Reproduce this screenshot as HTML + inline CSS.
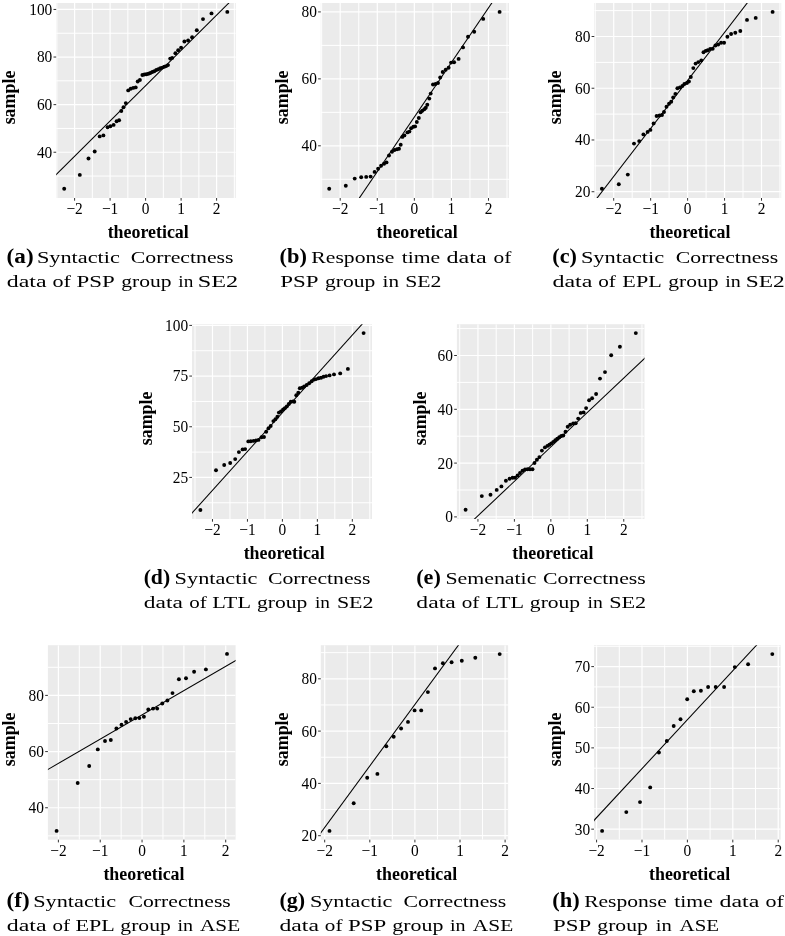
<!DOCTYPE html>
<html><head><meta charset="utf-8"><title>Q-Q plots</title><style>html,body{margin:0;padding:0;background:#fff;width:785px;height:936px;overflow:hidden}svg{display:block}</style></head><body>
<svg width="785" height="936" viewBox="0 0 785 936" font-family="'Liberation Serif', serif" fill="#000">
<clipPath id="clipa"><rect x="56.2" y="3" width="179.6" height="195"/></clipPath>
<rect x="56.2" y="3" width="179.6" height="195" fill="#EBEBEB"/>
<g clip-path="url(#clipa)">
<line x1="56.2" x2="235.8" y1="176.04" y2="176.04" stroke="#fff" stroke-width="1.0"/>
<line x1="56.2" x2="235.8" y1="128.44" y2="128.44" stroke="#fff" stroke-width="1.0"/>
<line x1="56.2" x2="235.8" y1="80.84" y2="80.84" stroke="#fff" stroke-width="1.0"/>
<line x1="56.2" x2="235.8" y1="33.24" y2="33.24" stroke="#fff" stroke-width="1.0"/>
<line y1="3" y2="198" x1="56.85" x2="56.85" stroke="#fff" stroke-width="1.0"/>
<line y1="3" y2="198" x1="92.35" x2="92.35" stroke="#fff" stroke-width="1.0"/>
<line y1="3" y2="198" x1="127.85" x2="127.85" stroke="#fff" stroke-width="1.0"/>
<line y1="3" y2="198" x1="163.35" x2="163.35" stroke="#fff" stroke-width="1.0"/>
<line y1="3" y2="198" x1="198.85" x2="198.85" stroke="#fff" stroke-width="1.0"/>
<line y1="3" y2="198" x1="234.35" x2="234.35" stroke="#fff" stroke-width="1.0"/>
<line x1="56.2" x2="235.8" y1="152.24" y2="152.24" stroke="#fff" stroke-width="1.2"/>
<line x1="56.2" x2="235.8" y1="104.64" y2="104.64" stroke="#fff" stroke-width="1.2"/>
<line x1="56.2" x2="235.8" y1="57.04" y2="57.04" stroke="#fff" stroke-width="1.2"/>
<line x1="56.2" x2="235.8" y1="9.44" y2="9.44" stroke="#fff" stroke-width="1.2"/>
<line y1="3" y2="198" x1="74.6" x2="74.6" stroke="#fff" stroke-width="1.2"/>
<line y1="3" y2="198" x1="110.1" x2="110.1" stroke="#fff" stroke-width="1.2"/>
<line y1="3" y2="198" x1="145.6" x2="145.6" stroke="#fff" stroke-width="1.2"/>
<line y1="3" y2="198" x1="181.1" x2="181.1" stroke="#fff" stroke-width="1.2"/>
<line y1="3" y2="198" x1="216.6" x2="216.6" stroke="#fff" stroke-width="1.2"/>
<circle cx="64.2" cy="188.8" r="1.95"/>
<circle cx="79.8" cy="174.9" r="1.95"/>
<circle cx="88.5" cy="158.5" r="1.95"/>
<circle cx="94.7" cy="151.5" r="1.95"/>
<circle cx="99.7" cy="136.4" r="1.95"/>
<circle cx="103.4" cy="135.4" r="1.95"/>
<circle cx="107.6" cy="127.2" r="1.95"/>
<circle cx="110.4" cy="126.2" r="1.95"/>
<circle cx="113.6" cy="124.9" r="1.95"/>
<circle cx="116.6" cy="121.2" r="1.95"/>
<circle cx="119.1" cy="120.2" r="1.95"/>
<circle cx="121.3" cy="111.0" r="1.95"/>
<circle cx="123.5" cy="107.3" r="1.95"/>
<circle cx="125.8" cy="103.1" r="1.95"/>
<circle cx="128.2" cy="90.4" r="1.95"/>
<circle cx="130.7" cy="88.7" r="1.95"/>
<circle cx="133.2" cy="87.9" r="1.95"/>
<circle cx="135.7" cy="87.4" r="1.95"/>
<circle cx="137.7" cy="81.5" r="1.95"/>
<circle cx="139.9" cy="80.0" r="1.95"/>
<circle cx="142.4" cy="75.0" r="1.95"/>
<circle cx="144.4" cy="74.5" r="1.95"/>
<circle cx="146.4" cy="74.3" r="1.95"/>
<circle cx="148.4" cy="73.8" r="1.95"/>
<circle cx="150.3" cy="73.0" r="1.95"/>
<circle cx="152.3" cy="72.0" r="1.95"/>
<circle cx="154.3" cy="71.3" r="1.95"/>
<circle cx="156.3" cy="70.0" r="1.95"/>
<circle cx="158.3" cy="69.3" r="1.95"/>
<circle cx="160.3" cy="68.3" r="1.95"/>
<circle cx="162.3" cy="67.6" r="1.95"/>
<circle cx="164.3" cy="66.8" r="1.95"/>
<circle cx="166.2" cy="66.1" r="1.95"/>
<circle cx="168.0" cy="65.1" r="1.95"/>
<circle cx="170.2" cy="58.6" r="1.95"/>
<circle cx="172.2" cy="57.9" r="1.95"/>
<circle cx="175.4" cy="53.2" r="1.95"/>
<circle cx="178.2" cy="50.2" r="1.95"/>
<circle cx="181.1" cy="47.7" r="1.95"/>
<circle cx="184.4" cy="41.5" r="1.95"/>
<circle cx="188.1" cy="40.5" r="1.95"/>
<circle cx="192.1" cy="37.3" r="1.95"/>
<circle cx="196.8" cy="30.3" r="1.95"/>
<circle cx="203.0" cy="19.1" r="1.95"/>
<circle cx="211.5" cy="13.4" r="1.95"/>
<circle cx="227.3" cy="11.9" r="1.95"/>
<line x1="51.2" y1="179.57" x2="240.8" y2="-8.93" stroke="#000" stroke-width="1.05"/>
</g>
<line x1="53.5" x2="56.2" y1="152.24" y2="152.24" stroke="#333" stroke-width="1"/>
<text transform="translate(52.3,157.64) scale(1,1.09)" text-anchor="end" font-size="15.4">40</text>
<line x1="53.5" x2="56.2" y1="104.64" y2="104.64" stroke="#333" stroke-width="1"/>
<text transform="translate(52.3,110.04) scale(1,1.09)" text-anchor="end" font-size="15.4">60</text>
<line x1="53.5" x2="56.2" y1="57.04" y2="57.04" stroke="#333" stroke-width="1"/>
<text transform="translate(52.3,62.44) scale(1,1.09)" text-anchor="end" font-size="15.4">80</text>
<line x1="53.5" x2="56.2" y1="9.44" y2="9.44" stroke="#333" stroke-width="1"/>
<text transform="translate(52.3,14.84) scale(1,1.09)" text-anchor="end" font-size="15.4">100</text>
<line x1="74.6" x2="74.6" y1="198" y2="200.7" stroke="#333" stroke-width="1"/>
<text transform="translate(74.6,214.4) scale(1,1.09)" text-anchor="middle" font-size="15.4">−2</text>
<line x1="110.1" x2="110.1" y1="198" y2="200.7" stroke="#333" stroke-width="1"/>
<text transform="translate(110.1,214.4) scale(1,1.09)" text-anchor="middle" font-size="15.4">−1</text>
<line x1="145.6" x2="145.6" y1="198" y2="200.7" stroke="#333" stroke-width="1"/>
<text transform="translate(145.6,214.4) scale(1,1.09)" text-anchor="middle" font-size="15.4">0</text>
<line x1="181.1" x2="181.1" y1="198" y2="200.7" stroke="#333" stroke-width="1"/>
<text transform="translate(181.1,214.4) scale(1,1.09)" text-anchor="middle" font-size="15.4">1</text>
<line x1="216.6" x2="216.6" y1="198" y2="200.7" stroke="#333" stroke-width="1"/>
<text transform="translate(216.6,214.4) scale(1,1.09)" text-anchor="middle" font-size="15.4">2</text>
<text x="148.2" y="238.2" text-anchor="middle" font-size="17.9" font-weight="bold">theoretical</text>
<text transform="translate(14.8,97.5) rotate(-90)" x="0" y="0" text-anchor="middle" font-size="17.9" font-weight="bold">sample</text>
<text transform="translate(6.58,262.8) scale(1,1.18)" font-size="17.6" font-weight="bold" textLength="27.04" lengthAdjust="spacingAndGlyphs">(a)</text>
<text x="36.91" y="262.8" font-size="17.6" textLength="82.98" lengthAdjust="spacingAndGlyphs">Syntactic</text>
<text x="130.81" y="262.8" font-size="17.6" textLength="102.78" lengthAdjust="spacingAndGlyphs">Correctness</text>
<text x="6.74" y="287.3" font-size="17.6" textLength="39.79" lengthAdjust="spacingAndGlyphs">data</text>
<text x="52.46" y="287.3" font-size="17.6" textLength="18.44" lengthAdjust="spacingAndGlyphs">of</text>
<text x="76.54" y="287.3" font-size="17.6" textLength="38.28" lengthAdjust="spacingAndGlyphs">PSP</text>
<text x="121.27" y="287.3" font-size="17.6" textLength="50.27" lengthAdjust="spacingAndGlyphs">group</text>
<text x="178.30" y="287.3" font-size="17.6" textLength="15.00" lengthAdjust="spacingAndGlyphs">in</text>
<text x="197.78" y="287.3" font-size="17.6" textLength="40.35" lengthAdjust="spacingAndGlyphs">SE2</text>
<clipPath id="clipb"><rect x="320.8" y="3" width="188.2" height="195"/></clipPath>
<rect x="320.8" y="3" width="188.2" height="195" fill="#EBEBEB"/>
<g clip-path="url(#clipb)">
<line x1="320.8" x2="509" y1="179.27" y2="179.27" stroke="#fff" stroke-width="1.0"/>
<line x1="320.8" x2="509" y1="112.33" y2="112.33" stroke="#fff" stroke-width="1.0"/>
<line x1="320.8" x2="509" y1="45.39" y2="45.39" stroke="#fff" stroke-width="1.0"/>
<line y1="3" y2="198" x1="321.68" x2="321.68" stroke="#fff" stroke-width="1.0"/>
<line y1="3" y2="198" x1="358.75" x2="358.75" stroke="#fff" stroke-width="1.0"/>
<line y1="3" y2="198" x1="395.81" x2="395.81" stroke="#fff" stroke-width="1.0"/>
<line y1="3" y2="198" x1="432.89" x2="432.89" stroke="#fff" stroke-width="1.0"/>
<line y1="3" y2="198" x1="469.96" x2="469.96" stroke="#fff" stroke-width="1.0"/>
<line y1="3" y2="198" x1="507.03" x2="507.03" stroke="#fff" stroke-width="1.0"/>
<line x1="320.8" x2="509" y1="145.8" y2="145.8" stroke="#fff" stroke-width="1.2"/>
<line x1="320.8" x2="509" y1="78.86" y2="78.86" stroke="#fff" stroke-width="1.2"/>
<line x1="320.8" x2="509" y1="11.92" y2="11.92" stroke="#fff" stroke-width="1.2"/>
<line y1="3" y2="198" x1="340.21" x2="340.21" stroke="#fff" stroke-width="1.2"/>
<line y1="3" y2="198" x1="377.28" x2="377.28" stroke="#fff" stroke-width="1.2"/>
<line y1="3" y2="198" x1="414.35" x2="414.35" stroke="#fff" stroke-width="1.2"/>
<line y1="3" y2="198" x1="451.42" x2="451.42" stroke="#fff" stroke-width="1.2"/>
<line y1="3" y2="198" x1="488.49" x2="488.49" stroke="#fff" stroke-width="1.2"/>
<circle cx="329.2" cy="188.8" r="1.95"/>
<circle cx="345.8" cy="185.8" r="1.95"/>
<circle cx="354.7" cy="178.6" r="1.95"/>
<circle cx="361.2" cy="177.3" r="1.95"/>
<circle cx="366.2" cy="176.9" r="1.95"/>
<circle cx="370.6" cy="176.6" r="1.95"/>
<circle cx="374.6" cy="171.9" r="1.95"/>
<circle cx="378.1" cy="168.7" r="1.95"/>
<circle cx="381.1" cy="165.7" r="1.95"/>
<circle cx="384.1" cy="163.7" r="1.95"/>
<circle cx="386.5" cy="162.4" r="1.95"/>
<circle cx="389.0" cy="155.5" r="1.95"/>
<circle cx="392.0" cy="151.8" r="1.95"/>
<circle cx="394.5" cy="150.0" r="1.95"/>
<circle cx="397.0" cy="149.3" r="1.95"/>
<circle cx="399.0" cy="148.8" r="1.95"/>
<circle cx="400.7" cy="144.8" r="1.95"/>
<circle cx="402.4" cy="136.9" r="1.95"/>
<circle cx="404.4" cy="135.4" r="1.95"/>
<circle cx="407.4" cy="132.4" r="1.95"/>
<circle cx="409.4" cy="131.6" r="1.95"/>
<circle cx="411.1" cy="128.2" r="1.95"/>
<circle cx="413.4" cy="126.7" r="1.95"/>
<circle cx="415.1" cy="126.4" r="1.95"/>
<circle cx="416.8" cy="122.0" r="1.95"/>
<circle cx="418.8" cy="118.0" r="1.95"/>
<circle cx="420.6" cy="112.3" r="1.95"/>
<circle cx="422.3" cy="110.8" r="1.95"/>
<circle cx="424.3" cy="109.3" r="1.95"/>
<circle cx="425.8" cy="107.8" r="1.95"/>
<circle cx="427.3" cy="104.8" r="1.95"/>
<circle cx="429.3" cy="98.6" r="1.95"/>
<circle cx="430.7" cy="93.6" r="1.95"/>
<circle cx="433.0" cy="84.5" r="1.95"/>
<circle cx="435.5" cy="84.0" r="1.95"/>
<circle cx="438.0" cy="83.0" r="1.95"/>
<circle cx="440.2" cy="77.5" r="1.95"/>
<circle cx="442.7" cy="72.0" r="1.95"/>
<circle cx="445.7" cy="69.8" r="1.95"/>
<circle cx="448.6" cy="67.8" r="1.95"/>
<circle cx="451.1" cy="62.6" r="1.95"/>
<circle cx="454.1" cy="62.3" r="1.95"/>
<circle cx="458.6" cy="58.9" r="1.95"/>
<circle cx="463.0" cy="47.4" r="1.95"/>
<circle cx="468.0" cy="36.8" r="1.95"/>
<circle cx="474.2" cy="31.8" r="1.95"/>
<circle cx="483.2" cy="18.9" r="1.95"/>
<circle cx="499.6" cy="11.9" r="1.95"/>
<line x1="315.8" y1="262.14" x2="514" y2="-29.69" stroke="#000" stroke-width="1.05"/>
</g>
<line x1="318.1" x2="320.8" y1="145.8" y2="145.8" stroke="#333" stroke-width="1"/>
<text transform="translate(316.9,151.2) scale(1,1.09)" text-anchor="end" font-size="15.4">40</text>
<line x1="318.1" x2="320.8" y1="78.86" y2="78.86" stroke="#333" stroke-width="1"/>
<text transform="translate(316.9,84.26) scale(1,1.09)" text-anchor="end" font-size="15.4">60</text>
<line x1="318.1" x2="320.8" y1="11.92" y2="11.92" stroke="#333" stroke-width="1"/>
<text transform="translate(316.9,17.32) scale(1,1.09)" text-anchor="end" font-size="15.4">80</text>
<line x1="340.21" x2="340.21" y1="198" y2="200.7" stroke="#333" stroke-width="1"/>
<text transform="translate(340.21,214.4) scale(1,1.09)" text-anchor="middle" font-size="15.4">−2</text>
<line x1="377.28" x2="377.28" y1="198" y2="200.7" stroke="#333" stroke-width="1"/>
<text transform="translate(377.28,214.4) scale(1,1.09)" text-anchor="middle" font-size="15.4">−1</text>
<line x1="414.35" x2="414.35" y1="198" y2="200.7" stroke="#333" stroke-width="1"/>
<text transform="translate(414.35,214.4) scale(1,1.09)" text-anchor="middle" font-size="15.4">0</text>
<line x1="451.42" x2="451.42" y1="198" y2="200.7" stroke="#333" stroke-width="1"/>
<text transform="translate(451.42,214.4) scale(1,1.09)" text-anchor="middle" font-size="15.4">1</text>
<line x1="488.49" x2="488.49" y1="198" y2="200.7" stroke="#333" stroke-width="1"/>
<text transform="translate(488.49,214.4) scale(1,1.09)" text-anchor="middle" font-size="15.4">2</text>
<text x="417.1" y="238.2" text-anchor="middle" font-size="17.9" font-weight="bold">theoretical</text>
<text transform="translate(287.5,97.3) rotate(-90)" x="0" y="0" text-anchor="middle" font-size="17.9" font-weight="bold">sample</text>
<text transform="translate(279.62,262.8) scale(1,1.18)" font-size="17.6" font-weight="bold" textLength="27.37" lengthAdjust="spacingAndGlyphs">(b)</text>
<text x="311.38" y="262.8" font-size="17.6" textLength="82.97" lengthAdjust="spacingAndGlyphs">Response</text>
<text x="401.69" y="262.8" font-size="17.6" textLength="38.46" lengthAdjust="spacingAndGlyphs">time</text>
<text x="446.43" y="262.8" font-size="17.6" textLength="40.20" lengthAdjust="spacingAndGlyphs">data</text>
<text x="493.49" y="262.8" font-size="17.6" textLength="17.81" lengthAdjust="spacingAndGlyphs">of</text>
<text x="280.34" y="287.3" font-size="17.6" textLength="38.28" lengthAdjust="spacingAndGlyphs">PSP</text>
<text x="325.07" y="287.3" font-size="17.6" textLength="50.27" lengthAdjust="spacingAndGlyphs">group</text>
<text x="382.56" y="287.3" font-size="17.6" textLength="16.46" lengthAdjust="spacingAndGlyphs">in</text>
<text x="405.25" y="287.3" font-size="17.6" textLength="36.25" lengthAdjust="spacingAndGlyphs">SE2</text>
<clipPath id="clipc"><rect x="594.3" y="3" width="186.9" height="195"/></clipPath>
<rect x="594.3" y="3" width="186.9" height="195" fill="#EBEBEB"/>
<g clip-path="url(#clipc)">
<line x1="594.3" x2="781.2" y1="165.85" y2="165.85" stroke="#fff" stroke-width="1.0"/>
<line x1="594.3" x2="781.2" y1="114.11" y2="114.11" stroke="#fff" stroke-width="1.0"/>
<line x1="594.3" x2="781.2" y1="62.37" y2="62.37" stroke="#fff" stroke-width="1.0"/>
<line x1="594.3" x2="781.2" y1="10.63" y2="10.63" stroke="#fff" stroke-width="1.0"/>
<line y1="3" y2="198" x1="595.23" x2="595.23" stroke="#fff" stroke-width="1.0"/>
<line y1="3" y2="198" x1="632.18" x2="632.18" stroke="#fff" stroke-width="1.0"/>
<line y1="3" y2="198" x1="669.12" x2="669.12" stroke="#fff" stroke-width="1.0"/>
<line y1="3" y2="198" x1="706.08" x2="706.08" stroke="#fff" stroke-width="1.0"/>
<line y1="3" y2="198" x1="743.02" x2="743.02" stroke="#fff" stroke-width="1.0"/>
<line y1="3" y2="198" x1="779.98" x2="779.98" stroke="#fff" stroke-width="1.0"/>
<line x1="594.3" x2="781.2" y1="191.72" y2="191.72" stroke="#fff" stroke-width="1.2"/>
<line x1="594.3" x2="781.2" y1="139.98" y2="139.98" stroke="#fff" stroke-width="1.2"/>
<line x1="594.3" x2="781.2" y1="88.24" y2="88.24" stroke="#fff" stroke-width="1.2"/>
<line x1="594.3" x2="781.2" y1="36.5" y2="36.5" stroke="#fff" stroke-width="1.2"/>
<line y1="3" y2="198" x1="613.7" x2="613.7" stroke="#fff" stroke-width="1.2"/>
<line y1="3" y2="198" x1="650.65" x2="650.65" stroke="#fff" stroke-width="1.2"/>
<line y1="3" y2="198" x1="687.6" x2="687.6" stroke="#fff" stroke-width="1.2"/>
<line y1="3" y2="198" x1="724.55" x2="724.55" stroke="#fff" stroke-width="1.2"/>
<line y1="3" y2="198" x1="761.5" x2="761.5" stroke="#fff" stroke-width="1.2"/>
<circle cx="601.9" cy="188.8" r="1.95"/>
<circle cx="618.8" cy="184.3" r="1.95"/>
<circle cx="627.8" cy="174.6" r="1.95"/>
<circle cx="634.0" cy="143.6" r="1.95"/>
<circle cx="639.2" cy="141.1" r="1.95"/>
<circle cx="643.4" cy="134.4" r="1.95"/>
<circle cx="647.6" cy="131.9" r="1.95"/>
<circle cx="650.4" cy="129.9" r="1.95"/>
<circle cx="653.6" cy="123.4" r="1.95"/>
<circle cx="656.6" cy="116.0" r="1.95"/>
<circle cx="659.5" cy="115.5" r="1.95"/>
<circle cx="662.0" cy="115.0" r="1.95"/>
<circle cx="664.0" cy="112.0" r="1.95"/>
<circle cx="666.5" cy="106.8" r="1.95"/>
<circle cx="669.0" cy="103.8" r="1.95"/>
<circle cx="671.2" cy="101.8" r="1.95"/>
<circle cx="673.2" cy="97.4" r="1.95"/>
<circle cx="675.4" cy="93.9" r="1.95"/>
<circle cx="677.4" cy="88.2" r="1.95"/>
<circle cx="679.9" cy="87.4" r="1.95"/>
<circle cx="682.4" cy="85.9" r="1.95"/>
<circle cx="684.4" cy="84.0" r="1.95"/>
<circle cx="686.9" cy="83.0" r="1.95"/>
<circle cx="688.9" cy="81.5" r="1.95"/>
<circle cx="690.8" cy="77.0" r="1.95"/>
<circle cx="693.3" cy="68.1" r="1.95"/>
<circle cx="695.6" cy="63.6" r="1.95"/>
<circle cx="698.3" cy="62.1" r="1.95"/>
<circle cx="701.3" cy="60.4" r="1.95"/>
<circle cx="703.5" cy="52.2" r="1.95"/>
<circle cx="705.7" cy="50.9" r="1.95"/>
<circle cx="707.7" cy="50.2" r="1.95"/>
<circle cx="710.2" cy="48.9" r="1.95"/>
<circle cx="712.7" cy="48.7" r="1.95"/>
<circle cx="715.4" cy="45.5" r="1.95"/>
<circle cx="718.2" cy="44.5" r="1.95"/>
<circle cx="721.1" cy="42.7" r="1.95"/>
<circle cx="724.1" cy="42.7" r="1.95"/>
<circle cx="727.4" cy="36.8" r="1.95"/>
<circle cx="731.1" cy="34.0" r="1.95"/>
<circle cx="735.3" cy="32.8" r="1.95"/>
<circle cx="740.3" cy="31.0" r="1.95"/>
<circle cx="747.0" cy="19.9" r="1.95"/>
<circle cx="755.7" cy="17.9" r="1.95"/>
<circle cx="772.6" cy="11.9" r="1.95"/>
<line x1="589.3" y1="208.15" x2="786.2" y2="-47.67" stroke="#000" stroke-width="1.05"/>
</g>
<line x1="591.6" x2="594.3" y1="191.72" y2="191.72" stroke="#333" stroke-width="1"/>
<text transform="translate(590.4,197.12) scale(1,1.09)" text-anchor="end" font-size="15.4">20</text>
<line x1="591.6" x2="594.3" y1="139.98" y2="139.98" stroke="#333" stroke-width="1"/>
<text transform="translate(590.4,145.38) scale(1,1.09)" text-anchor="end" font-size="15.4">40</text>
<line x1="591.6" x2="594.3" y1="88.24" y2="88.24" stroke="#333" stroke-width="1"/>
<text transform="translate(590.4,93.64) scale(1,1.09)" text-anchor="end" font-size="15.4">60</text>
<line x1="591.6" x2="594.3" y1="36.5" y2="36.5" stroke="#333" stroke-width="1"/>
<text transform="translate(590.4,41.9) scale(1,1.09)" text-anchor="end" font-size="15.4">80</text>
<line x1="613.7" x2="613.7" y1="198" y2="200.7" stroke="#333" stroke-width="1"/>
<text transform="translate(613.7,214.4) scale(1,1.09)" text-anchor="middle" font-size="15.4">−2</text>
<line x1="650.65" x2="650.65" y1="198" y2="200.7" stroke="#333" stroke-width="1"/>
<text transform="translate(650.65,214.4) scale(1,1.09)" text-anchor="middle" font-size="15.4">−1</text>
<line x1="687.6" x2="687.6" y1="198" y2="200.7" stroke="#333" stroke-width="1"/>
<text transform="translate(687.6,214.4) scale(1,1.09)" text-anchor="middle" font-size="15.4">0</text>
<line x1="724.55" x2="724.55" y1="198" y2="200.7" stroke="#333" stroke-width="1"/>
<text transform="translate(724.55,214.4) scale(1,1.09)" text-anchor="middle" font-size="15.4">1</text>
<line x1="761.5" x2="761.5" y1="198" y2="200.7" stroke="#333" stroke-width="1"/>
<text transform="translate(761.5,214.4) scale(1,1.09)" text-anchor="middle" font-size="15.4">2</text>
<text x="689.95" y="238.2" text-anchor="middle" font-size="17.9" font-weight="bold">theoretical</text>
<text transform="translate(561.3,97.3) rotate(-90)" x="0" y="0" text-anchor="middle" font-size="17.9" font-weight="bold">sample</text>
<text transform="translate(552.32,262.8) scale(1,1.18)" font-size="17.6" font-weight="bold" textLength="24.65" lengthAdjust="spacingAndGlyphs">(c)</text>
<text x="580.90" y="262.8" font-size="17.6" textLength="83.39" lengthAdjust="spacingAndGlyphs">Syntactic</text>
<text x="675.81" y="262.8" font-size="17.6" textLength="102.48" lengthAdjust="spacingAndGlyphs">Correctness</text>
<text x="552.43" y="287.3" font-size="17.6" textLength="39.89" lengthAdjust="spacingAndGlyphs">data</text>
<text x="598.29" y="287.3" font-size="17.6" textLength="17.61" lengthAdjust="spacingAndGlyphs">of</text>
<text x="622.36" y="287.3" font-size="17.6" textLength="39.37" lengthAdjust="spacingAndGlyphs">EPL</text>
<text x="668.28" y="287.3" font-size="17.6" textLength="50.16" lengthAdjust="spacingAndGlyphs">group</text>
<text x="725.18" y="287.3" font-size="17.6" textLength="15.52" lengthAdjust="spacingAndGlyphs">in</text>
<text x="745.74" y="287.3" font-size="17.6" textLength="38.95" lengthAdjust="spacingAndGlyphs">SE2</text>
<clipPath id="clipd"><rect x="192" y="324.2" width="180" height="194.8"/></clipPath>
<rect x="192" y="324.2" width="180" height="194.8" fill="#EBEBEB"/>
<g clip-path="url(#clipd)">
<line x1="192" x2="372" y1="502.76" y2="502.76" stroke="#fff" stroke-width="1.0"/>
<line x1="192" x2="372" y1="452.09" y2="452.09" stroke="#fff" stroke-width="1.0"/>
<line x1="192" x2="372" y1="401.41" y2="401.41" stroke="#fff" stroke-width="1.0"/>
<line x1="192" x2="372" y1="350.74" y2="350.74" stroke="#fff" stroke-width="1.0"/>
<line y1="324.2" y2="519" x1="195" x2="195" stroke="#fff" stroke-width="1.0"/>
<line y1="324.2" y2="519" x1="229.96" x2="229.96" stroke="#fff" stroke-width="1.0"/>
<line y1="324.2" y2="519" x1="264.92" x2="264.92" stroke="#fff" stroke-width="1.0"/>
<line y1="324.2" y2="519" x1="299.88" x2="299.88" stroke="#fff" stroke-width="1.0"/>
<line y1="324.2" y2="519" x1="334.84" x2="334.84" stroke="#fff" stroke-width="1.0"/>
<line y1="324.2" y2="519" x1="369.8" x2="369.8" stroke="#fff" stroke-width="1.0"/>
<line x1="192" x2="372" y1="477.42" y2="477.42" stroke="#fff" stroke-width="1.2"/>
<line x1="192" x2="372" y1="426.75" y2="426.75" stroke="#fff" stroke-width="1.2"/>
<line x1="192" x2="372" y1="376.07" y2="376.07" stroke="#fff" stroke-width="1.2"/>
<line x1="192" x2="372" y1="325.4" y2="325.4" stroke="#fff" stroke-width="1.2"/>
<line y1="324.2" y2="519" x1="212.48" x2="212.48" stroke="#fff" stroke-width="1.2"/>
<line y1="324.2" y2="519" x1="247.44" x2="247.44" stroke="#fff" stroke-width="1.2"/>
<line y1="324.2" y2="519" x1="282.4" x2="282.4" stroke="#fff" stroke-width="1.2"/>
<line y1="324.2" y2="519" x1="317.36" x2="317.36" stroke="#fff" stroke-width="1.2"/>
<line y1="324.2" y2="519" x1="352.32" x2="352.32" stroke="#fff" stroke-width="1.2"/>
<circle cx="200.4" cy="510.0" r="1.95"/>
<circle cx="216.0" cy="470.2" r="1.95"/>
<circle cx="224.2" cy="465.0" r="1.95"/>
<circle cx="230.2" cy="463.0" r="1.95"/>
<circle cx="235.2" cy="459.1" r="1.95"/>
<circle cx="238.9" cy="452.1" r="1.95"/>
<circle cx="242.6" cy="449.4" r="1.95"/>
<circle cx="245.1" cy="449.1" r="1.95"/>
<circle cx="248.3" cy="441.4" r="1.95"/>
<circle cx="250.8" cy="441.2" r="1.95"/>
<circle cx="253.6" cy="440.9" r="1.95"/>
<circle cx="256.0" cy="440.4" r="1.95"/>
<circle cx="258.5" cy="439.9" r="1.95"/>
<circle cx="261.5" cy="437.2" r="1.95"/>
<circle cx="264.0" cy="437.0" r="1.95"/>
<circle cx="266.2" cy="431.7" r="1.95"/>
<circle cx="268.5" cy="428.3" r="1.95"/>
<circle cx="270.7" cy="426.0" r="1.95"/>
<circle cx="273.4" cy="421.1" r="1.95"/>
<circle cx="275.4" cy="419.3" r="1.95"/>
<circle cx="277.4" cy="416.8" r="1.95"/>
<circle cx="278.9" cy="412.6" r="1.95"/>
<circle cx="280.9" cy="411.4" r="1.95"/>
<circle cx="283.1" cy="409.4" r="1.95"/>
<circle cx="284.9" cy="408.1" r="1.95"/>
<circle cx="286.8" cy="406.4" r="1.95"/>
<circle cx="288.8" cy="403.9" r="1.95"/>
<circle cx="290.8" cy="401.7" r="1.95"/>
<circle cx="293.0" cy="401.4" r="1.95"/>
<circle cx="294.3" cy="401.7" r="1.95"/>
<circle cx="296.3" cy="395.2" r="1.95"/>
<circle cx="298.3" cy="392.7" r="1.95"/>
<circle cx="299.8" cy="388.3" r="1.95"/>
<circle cx="302.2" cy="387.8" r="1.95"/>
<circle cx="304.2" cy="386.5" r="1.95"/>
<circle cx="306.7" cy="385.0" r="1.95"/>
<circle cx="309.2" cy="383.3" r="1.95"/>
<circle cx="311.7" cy="381.3" r="1.95"/>
<circle cx="314.2" cy="379.6" r="1.95"/>
<circle cx="316.1" cy="379.1" r="1.95"/>
<circle cx="318.6" cy="378.3" r="1.95"/>
<circle cx="321.1" cy="377.8" r="1.95"/>
<circle cx="323.6" cy="376.8" r="1.95"/>
<circle cx="326.1" cy="376.1" r="1.95"/>
<circle cx="329.6" cy="375.4" r="1.95"/>
<circle cx="334.0" cy="374.4" r="1.95"/>
<circle cx="340.2" cy="373.4" r="1.95"/>
<circle cx="347.9" cy="368.9" r="1.95"/>
<circle cx="363.6" cy="333.1" r="1.95"/>
<line x1="187" y1="518.61" x2="377" y2="307.63" stroke="#000" stroke-width="1.05"/>
</g>
<line x1="189.3" x2="192" y1="477.42" y2="477.42" stroke="#333" stroke-width="1"/>
<text transform="translate(188.1,482.82) scale(1,1.09)" text-anchor="end" font-size="15.4">25</text>
<line x1="189.3" x2="192" y1="426.75" y2="426.75" stroke="#333" stroke-width="1"/>
<text transform="translate(188.1,432.15) scale(1,1.09)" text-anchor="end" font-size="15.4">50</text>
<line x1="189.3" x2="192" y1="376.07" y2="376.07" stroke="#333" stroke-width="1"/>
<text transform="translate(188.1,381.47) scale(1,1.09)" text-anchor="end" font-size="15.4">75</text>
<line x1="189.3" x2="192" y1="325.4" y2="325.4" stroke="#333" stroke-width="1"/>
<text transform="translate(188.1,330.8) scale(1,1.09)" text-anchor="end" font-size="15.4">100</text>
<line x1="212.48" x2="212.48" y1="519" y2="521.7" stroke="#333" stroke-width="1"/>
<text transform="translate(212.48,535.4) scale(1,1.09)" text-anchor="middle" font-size="15.4">−2</text>
<line x1="247.44" x2="247.44" y1="519" y2="521.7" stroke="#333" stroke-width="1"/>
<text transform="translate(247.44,535.4) scale(1,1.09)" text-anchor="middle" font-size="15.4">−1</text>
<line x1="282.4" x2="282.4" y1="519" y2="521.7" stroke="#333" stroke-width="1"/>
<text transform="translate(282.4,535.4) scale(1,1.09)" text-anchor="middle" font-size="15.4">0</text>
<line x1="317.36" x2="317.36" y1="519" y2="521.7" stroke="#333" stroke-width="1"/>
<text transform="translate(317.36,535.4) scale(1,1.09)" text-anchor="middle" font-size="15.4">1</text>
<line x1="352.32" x2="352.32" y1="519" y2="521.7" stroke="#333" stroke-width="1"/>
<text transform="translate(352.32,535.4) scale(1,1.09)" text-anchor="middle" font-size="15.4">2</text>
<text x="284.2" y="559.2" text-anchor="middle" font-size="17.9" font-weight="bold">theoretical</text>
<text transform="translate(152.3,418.4) rotate(-90)" x="0" y="0" text-anchor="middle" font-size="17.9" font-weight="bold">sample</text>
<text transform="translate(143.65,583.9) scale(1,1.18)" font-size="17.6" font-weight="bold" textLength="26.51" lengthAdjust="spacingAndGlyphs">(d)</text>
<text x="174.61" y="583.9" font-size="17.6" textLength="82.88" lengthAdjust="spacingAndGlyphs">Syntactic</text>
<text x="267.91" y="583.9" font-size="17.6" textLength="102.58" lengthAdjust="spacingAndGlyphs">Correctness</text>
<text x="143.75" y="608.3" font-size="17.6" textLength="39.07" lengthAdjust="spacingAndGlyphs">data</text>
<text x="189.20" y="608.3" font-size="17.6" textLength="17.50" lengthAdjust="spacingAndGlyphs">of</text>
<text x="212.36" y="608.3" font-size="17.6" textLength="38.57" lengthAdjust="spacingAndGlyphs">LTL</text>
<text x="257.07" y="608.3" font-size="17.6" textLength="50.27" lengthAdjust="spacingAndGlyphs">group</text>
<text x="314.90" y="608.3" font-size="17.6" textLength="15.00" lengthAdjust="spacingAndGlyphs">in</text>
<text x="336.93" y="608.3" font-size="17.6" textLength="36.58" lengthAdjust="spacingAndGlyphs">SE2</text>
<clipPath id="clipe"><rect x="456.9" y="324.2" width="187.6" height="194.8"/></clipPath>
<rect x="456.9" y="324.2" width="187.6" height="194.8" fill="#EBEBEB"/>
<g clip-path="url(#clipe)">
<line x1="456.9" x2="644.5" y1="490" y2="490" stroke="#fff" stroke-width="1.0"/>
<line x1="456.9" x2="644.5" y1="436.2" y2="436.2" stroke="#fff" stroke-width="1.0"/>
<line x1="456.9" x2="644.5" y1="382.4" y2="382.4" stroke="#fff" stroke-width="1.0"/>
<line x1="456.9" x2="644.5" y1="328.6" y2="328.6" stroke="#fff" stroke-width="1.0"/>
<line y1="324.2" y2="519" x1="459.73" x2="459.73" stroke="#fff" stroke-width="1.0"/>
<line y1="324.2" y2="519" x1="496.18" x2="496.18" stroke="#fff" stroke-width="1.0"/>
<line y1="324.2" y2="519" x1="532.62" x2="532.62" stroke="#fff" stroke-width="1.0"/>
<line y1="324.2" y2="519" x1="569.08" x2="569.08" stroke="#fff" stroke-width="1.0"/>
<line y1="324.2" y2="519" x1="605.52" x2="605.52" stroke="#fff" stroke-width="1.0"/>
<line y1="324.2" y2="519" x1="641.98" x2="641.98" stroke="#fff" stroke-width="1.0"/>
<line x1="456.9" x2="644.5" y1="516.9" y2="516.9" stroke="#fff" stroke-width="1.2"/>
<line x1="456.9" x2="644.5" y1="463.1" y2="463.1" stroke="#fff" stroke-width="1.2"/>
<line x1="456.9" x2="644.5" y1="409.3" y2="409.3" stroke="#fff" stroke-width="1.2"/>
<line x1="456.9" x2="644.5" y1="355.5" y2="355.5" stroke="#fff" stroke-width="1.2"/>
<line y1="324.2" y2="519" x1="477.95" x2="477.95" stroke="#fff" stroke-width="1.2"/>
<line y1="324.2" y2="519" x1="514.4" x2="514.4" stroke="#fff" stroke-width="1.2"/>
<line y1="324.2" y2="519" x1="550.85" x2="550.85" stroke="#fff" stroke-width="1.2"/>
<line y1="324.2" y2="519" x1="587.3" x2="587.3" stroke="#fff" stroke-width="1.2"/>
<line y1="324.2" y2="519" x1="623.75" x2="623.75" stroke="#fff" stroke-width="1.2"/>
<circle cx="465.6" cy="509.7" r="1.95"/>
<circle cx="481.8" cy="496.1" r="1.95"/>
<circle cx="490.5" cy="494.8" r="1.95"/>
<circle cx="496.7" cy="489.9" r="1.95"/>
<circle cx="501.4" cy="486.4" r="1.95"/>
<circle cx="505.9" cy="480.7" r="1.95"/>
<circle cx="509.6" cy="478.7" r="1.95"/>
<circle cx="512.6" cy="477.7" r="1.95"/>
<circle cx="515.1" cy="477.7" r="1.95"/>
<circle cx="517.6" cy="475.5" r="1.95"/>
<circle cx="520.0" cy="473.0" r="1.95"/>
<circle cx="522.5" cy="470.7" r="1.95"/>
<circle cx="525.0" cy="469.5" r="1.95"/>
<circle cx="527.5" cy="469.2" r="1.95"/>
<circle cx="530.0" cy="469.2" r="1.95"/>
<circle cx="532.5" cy="469.2" r="1.95"/>
<circle cx="534.5" cy="463.0" r="1.95"/>
<circle cx="536.9" cy="459.8" r="1.95"/>
<circle cx="539.4" cy="457.1" r="1.95"/>
<circle cx="541.9" cy="450.6" r="1.95"/>
<circle cx="544.9" cy="447.4" r="1.95"/>
<circle cx="547.4" cy="445.9" r="1.95"/>
<circle cx="549.4" cy="444.7" r="1.95"/>
<circle cx="551.3" cy="443.4" r="1.95"/>
<circle cx="553.3" cy="441.9" r="1.95"/>
<circle cx="555.3" cy="440.2" r="1.95"/>
<circle cx="557.3" cy="438.7" r="1.95"/>
<circle cx="559.3" cy="437.2" r="1.95"/>
<circle cx="561.3" cy="436.0" r="1.95"/>
<circle cx="563.3" cy="435.5" r="1.95"/>
<circle cx="565.5" cy="431.7" r="1.95"/>
<circle cx="567.7" cy="426.8" r="1.95"/>
<circle cx="570.2" cy="424.8" r="1.95"/>
<circle cx="573.2" cy="423.5" r="1.95"/>
<circle cx="575.7" cy="423.3" r="1.95"/>
<circle cx="578.2" cy="418.6" r="1.95"/>
<circle cx="580.7" cy="412.9" r="1.95"/>
<circle cx="583.6" cy="412.4" r="1.95"/>
<circle cx="586.1" cy="408.1" r="1.95"/>
<circle cx="589.1" cy="400.2" r="1.95"/>
<circle cx="592.1" cy="398.2" r="1.95"/>
<circle cx="596.1" cy="394.0" r="1.95"/>
<circle cx="600.0" cy="378.6" r="1.95"/>
<circle cx="605.0" cy="372.1" r="1.95"/>
<circle cx="611.2" cy="355.2" r="1.95"/>
<circle cx="619.9" cy="346.8" r="1.95"/>
<circle cx="635.8" cy="333.1" r="1.95"/>
<line x1="451.9" y1="540.35" x2="649.5" y2="353.75" stroke="#000" stroke-width="1.05"/>
</g>
<line x1="454.2" x2="456.9" y1="516.9" y2="516.9" stroke="#333" stroke-width="1"/>
<text transform="translate(453,522.3) scale(1,1.09)" text-anchor="end" font-size="15.4">0</text>
<line x1="454.2" x2="456.9" y1="463.1" y2="463.1" stroke="#333" stroke-width="1"/>
<text transform="translate(453,468.5) scale(1,1.09)" text-anchor="end" font-size="15.4">20</text>
<line x1="454.2" x2="456.9" y1="409.3" y2="409.3" stroke="#333" stroke-width="1"/>
<text transform="translate(453,414.7) scale(1,1.09)" text-anchor="end" font-size="15.4">40</text>
<line x1="454.2" x2="456.9" y1="355.5" y2="355.5" stroke="#333" stroke-width="1"/>
<text transform="translate(453,360.9) scale(1,1.09)" text-anchor="end" font-size="15.4">60</text>
<line x1="477.95" x2="477.95" y1="519" y2="521.7" stroke="#333" stroke-width="1"/>
<text transform="translate(477.95,535.4) scale(1,1.09)" text-anchor="middle" font-size="15.4">−2</text>
<line x1="514.4" x2="514.4" y1="519" y2="521.7" stroke="#333" stroke-width="1"/>
<text transform="translate(514.4,535.4) scale(1,1.09)" text-anchor="middle" font-size="15.4">−1</text>
<line x1="550.85" x2="550.85" y1="519" y2="521.7" stroke="#333" stroke-width="1"/>
<text transform="translate(550.85,535.4) scale(1,1.09)" text-anchor="middle" font-size="15.4">0</text>
<line x1="587.3" x2="587.3" y1="519" y2="521.7" stroke="#333" stroke-width="1"/>
<text transform="translate(587.3,535.4) scale(1,1.09)" text-anchor="middle" font-size="15.4">1</text>
<line x1="623.75" x2="623.75" y1="519" y2="521.7" stroke="#333" stroke-width="1"/>
<text transform="translate(623.75,535.4) scale(1,1.09)" text-anchor="middle" font-size="15.4">2</text>
<text x="552.9" y="559.2" text-anchor="middle" font-size="17.9" font-weight="bold">theoretical</text>
<text transform="translate(425.5,418.4) rotate(-90)" x="0" y="0" text-anchor="middle" font-size="17.9" font-weight="bold">sample</text>
<text transform="translate(416.22,583.9) scale(1,1.18)" font-size="17.6" font-weight="bold" textLength="24.65" lengthAdjust="spacingAndGlyphs">(e)</text>
<text x="445.44" y="583.9" font-size="17.6" textLength="90.93" lengthAdjust="spacingAndGlyphs">Semenatic</text>
<text x="543.11" y="583.9" font-size="17.6" textLength="102.68" lengthAdjust="spacingAndGlyphs">Correctness</text>
<text x="416.35" y="608.3" font-size="17.6" textLength="39.38" lengthAdjust="spacingAndGlyphs">data</text>
<text x="461.69" y="608.3" font-size="17.6" textLength="17.61" lengthAdjust="spacingAndGlyphs">of</text>
<text x="485.46" y="608.3" font-size="17.6" textLength="38.57" lengthAdjust="spacingAndGlyphs">LTL</text>
<text x="529.87" y="608.3" font-size="17.6" textLength="50.27" lengthAdjust="spacingAndGlyphs">group</text>
<text x="587.49" y="608.3" font-size="17.6" textLength="15.31" lengthAdjust="spacingAndGlyphs">in</text>
<text x="609.22" y="608.3" font-size="17.6" textLength="37.01" lengthAdjust="spacingAndGlyphs">SE2</text>
<clipPath id="clipf"><rect x="47.9" y="645.2" width="187.7" height="194.5"/></clipPath>
<rect x="47.9" y="645.2" width="187.7" height="194.5" fill="#EBEBEB"/>
<g clip-path="url(#clipf)">
<line x1="47.9" x2="235.6" y1="835.85" y2="835.85" stroke="#fff" stroke-width="1.0"/>
<line x1="47.9" x2="235.6" y1="779.67" y2="779.67" stroke="#fff" stroke-width="1.0"/>
<line x1="47.9" x2="235.6" y1="723.49" y2="723.49" stroke="#fff" stroke-width="1.0"/>
<line x1="47.9" x2="235.6" y1="667.31" y2="667.31" stroke="#fff" stroke-width="1.0"/>
<line y1="645.2" y2="839.7" x1="79.31" x2="79.31" stroke="#fff" stroke-width="1.0"/>
<line y1="645.2" y2="839.7" x1="121.14" x2="121.14" stroke="#fff" stroke-width="1.0"/>
<line y1="645.2" y2="839.7" x1="162.97" x2="162.97" stroke="#fff" stroke-width="1.0"/>
<line y1="645.2" y2="839.7" x1="204.8" x2="204.8" stroke="#fff" stroke-width="1.0"/>
<line x1="47.9" x2="235.6" y1="807.76" y2="807.76" stroke="#fff" stroke-width="1.2"/>
<line x1="47.9" x2="235.6" y1="751.58" y2="751.58" stroke="#fff" stroke-width="1.2"/>
<line x1="47.9" x2="235.6" y1="695.4" y2="695.4" stroke="#fff" stroke-width="1.2"/>
<line y1="645.2" y2="839.7" x1="58.39" x2="58.39" stroke="#fff" stroke-width="1.2"/>
<line y1="645.2" y2="839.7" x1="100.22" x2="100.22" stroke="#fff" stroke-width="1.2"/>
<line y1="645.2" y2="839.7" x1="142.05" x2="142.05" stroke="#fff" stroke-width="1.2"/>
<line y1="645.2" y2="839.7" x1="183.88" x2="183.88" stroke="#fff" stroke-width="1.2"/>
<line y1="645.2" y2="839.7" x1="225.71" x2="225.71" stroke="#fff" stroke-width="1.2"/>
<circle cx="56.6" cy="830.9" r="1.95"/>
<circle cx="77.7" cy="783.0" r="1.95"/>
<circle cx="89.2" cy="766.0" r="1.95"/>
<circle cx="97.8" cy="749.4" r="1.95"/>
<circle cx="105.0" cy="741.0" r="1.95"/>
<circle cx="110.8" cy="740.0" r="1.95"/>
<circle cx="116.4" cy="728.5" r="1.95"/>
<circle cx="121.5" cy="724.7" r="1.95"/>
<circle cx="126.1" cy="721.9" r="1.95"/>
<circle cx="130.7" cy="719.1" r="1.95"/>
<circle cx="135.3" cy="718.3" r="1.95"/>
<circle cx="139.4" cy="718.1" r="1.95"/>
<circle cx="143.9" cy="716.8" r="1.95"/>
<circle cx="148.3" cy="709.4" r="1.95"/>
<circle cx="153.1" cy="708.6" r="1.95"/>
<circle cx="157.2" cy="708.6" r="1.95"/>
<circle cx="162.3" cy="703.5" r="1.95"/>
<circle cx="167.4" cy="700.5" r="1.95"/>
<circle cx="172.5" cy="693.1" r="1.95"/>
<circle cx="178.9" cy="679.3" r="1.95"/>
<circle cx="186.0" cy="678.3" r="1.95"/>
<circle cx="194.1" cy="671.7" r="1.95"/>
<circle cx="205.9" cy="669.4" r="1.95"/>
<circle cx="227.0" cy="653.9" r="1.95"/>
<line x1="42.9" y1="772.38" x2="240.6" y2="657.66" stroke="#000" stroke-width="1.05"/>
</g>
<line x1="45.2" x2="47.9" y1="807.76" y2="807.76" stroke="#333" stroke-width="1"/>
<text transform="translate(44,813.16) scale(1,1.09)" text-anchor="end" font-size="15.4">40</text>
<line x1="45.2" x2="47.9" y1="751.58" y2="751.58" stroke="#333" stroke-width="1"/>
<text transform="translate(44,756.98) scale(1,1.09)" text-anchor="end" font-size="15.4">60</text>
<line x1="45.2" x2="47.9" y1="695.4" y2="695.4" stroke="#333" stroke-width="1"/>
<text transform="translate(44,700.8) scale(1,1.09)" text-anchor="end" font-size="15.4">80</text>
<line x1="58.39" x2="58.39" y1="839.7" y2="842.4" stroke="#333" stroke-width="1"/>
<text transform="translate(58.39,856.1) scale(1,1.09)" text-anchor="middle" font-size="15.4">−2</text>
<line x1="100.22" x2="100.22" y1="839.7" y2="842.4" stroke="#333" stroke-width="1"/>
<text transform="translate(100.22,856.1) scale(1,1.09)" text-anchor="middle" font-size="15.4">−1</text>
<line x1="142.05" x2="142.05" y1="839.7" y2="842.4" stroke="#333" stroke-width="1"/>
<text transform="translate(142.05,856.1) scale(1,1.09)" text-anchor="middle" font-size="15.4">0</text>
<line x1="183.88" x2="183.88" y1="839.7" y2="842.4" stroke="#333" stroke-width="1"/>
<text transform="translate(183.88,856.1) scale(1,1.09)" text-anchor="middle" font-size="15.4">1</text>
<line x1="225.71" x2="225.71" y1="839.7" y2="842.4" stroke="#333" stroke-width="1"/>
<text transform="translate(225.71,856.1) scale(1,1.09)" text-anchor="middle" font-size="15.4">2</text>
<text x="143.95" y="879.9" text-anchor="middle" font-size="17.9" font-weight="bold">theoretical</text>
<text transform="translate(15.2,739.3) rotate(-90)" x="0" y="0" text-anchor="middle" font-size="17.9" font-weight="bold">sample</text>
<text transform="translate(6.58,906.6) scale(1,1.18)" font-size="17.6" font-weight="bold" textLength="23.14" lengthAdjust="spacingAndGlyphs">(f)</text>
<text x="33.21" y="906.6" font-size="17.6" textLength="82.88" lengthAdjust="spacingAndGlyphs">Syntactic</text>
<text x="128.61" y="906.6" font-size="17.6" textLength="102.17" lengthAdjust="spacingAndGlyphs">Correctness</text>
<text x="6.74" y="931" font-size="17.6" textLength="39.79" lengthAdjust="spacingAndGlyphs">data</text>
<text x="52.50" y="931" font-size="17.6" textLength="17.50" lengthAdjust="spacingAndGlyphs">of</text>
<text x="75.46" y="931" font-size="17.6" textLength="39.26" lengthAdjust="spacingAndGlyphs">EPL</text>
<text x="120.37" y="931" font-size="17.6" textLength="50.37" lengthAdjust="spacingAndGlyphs">group</text>
<text x="177.48" y="931" font-size="17.6" textLength="15.63" lengthAdjust="spacingAndGlyphs">in</text>
<text x="199.99" y="931" font-size="17.6" textLength="40.17" lengthAdjust="spacingAndGlyphs">ASE</text>
<clipPath id="clipg"><rect x="320.8" y="645.2" width="187.3" height="194.5"/></clipPath>
<rect x="320.8" y="645.2" width="187.3" height="194.5" fill="#EBEBEB"/>
<g clip-path="url(#clipg)">
<line x1="320.8" x2="508.1" y1="809.55" y2="809.55" stroke="#fff" stroke-width="1.0"/>
<line x1="320.8" x2="508.1" y1="757.25" y2="757.25" stroke="#fff" stroke-width="1.0"/>
<line x1="320.8" x2="508.1" y1="704.95" y2="704.95" stroke="#fff" stroke-width="1.0"/>
<line x1="320.8" x2="508.1" y1="652.65" y2="652.65" stroke="#fff" stroke-width="1.0"/>
<line y1="645.2" y2="839.7" x1="347.25" x2="347.25" stroke="#fff" stroke-width="1.0"/>
<line y1="645.2" y2="839.7" x1="392.35" x2="392.35" stroke="#fff" stroke-width="1.0"/>
<line y1="645.2" y2="839.7" x1="437.45" x2="437.45" stroke="#fff" stroke-width="1.0"/>
<line y1="645.2" y2="839.7" x1="482.55" x2="482.55" stroke="#fff" stroke-width="1.0"/>
<line x1="320.8" x2="508.1" y1="835.7" y2="835.7" stroke="#fff" stroke-width="1.2"/>
<line x1="320.8" x2="508.1" y1="783.4" y2="783.4" stroke="#fff" stroke-width="1.2"/>
<line x1="320.8" x2="508.1" y1="731.1" y2="731.1" stroke="#fff" stroke-width="1.2"/>
<line x1="320.8" x2="508.1" y1="678.8" y2="678.8" stroke="#fff" stroke-width="1.2"/>
<line y1="645.2" y2="839.7" x1="324.7" x2="324.7" stroke="#fff" stroke-width="1.2"/>
<line y1="645.2" y2="839.7" x1="369.8" x2="369.8" stroke="#fff" stroke-width="1.2"/>
<line y1="645.2" y2="839.7" x1="414.9" x2="414.9" stroke="#fff" stroke-width="1.2"/>
<line y1="645.2" y2="839.7" x1="460" x2="460" stroke="#fff" stroke-width="1.2"/>
<line y1="645.2" y2="839.7" x1="505.1" x2="505.1" stroke="#fff" stroke-width="1.2"/>
<circle cx="329.5" cy="830.9" r="1.95"/>
<circle cx="353.7" cy="803.2" r="1.95"/>
<circle cx="367.2" cy="777.7" r="1.95"/>
<circle cx="377.4" cy="773.9" r="1.95"/>
<circle cx="386.3" cy="746.3" r="1.95"/>
<circle cx="393.7" cy="736.7" r="1.95"/>
<circle cx="401.1" cy="728.5" r="1.95"/>
<circle cx="408.0" cy="721.9" r="1.95"/>
<circle cx="414.6" cy="710.4" r="1.95"/>
<circle cx="421.2" cy="710.4" r="1.95"/>
<circle cx="427.9" cy="692.1" r="1.95"/>
<circle cx="435.0" cy="668.4" r="1.95"/>
<circle cx="442.9" cy="663.3" r="1.95"/>
<circle cx="451.6" cy="662.3" r="1.95"/>
<circle cx="461.8" cy="660.7" r="1.95"/>
<circle cx="475.3" cy="657.7" r="1.95"/>
<circle cx="499.7" cy="654.1" r="1.95"/>
<line x1="315.8" y1="839.54" x2="513.1" y2="570.65" stroke="#000" stroke-width="1.05"/>
</g>
<line x1="318.1" x2="320.8" y1="835.7" y2="835.7" stroke="#333" stroke-width="1"/>
<text transform="translate(316.9,841.1) scale(1,1.09)" text-anchor="end" font-size="15.4">20</text>
<line x1="318.1" x2="320.8" y1="783.4" y2="783.4" stroke="#333" stroke-width="1"/>
<text transform="translate(316.9,788.8) scale(1,1.09)" text-anchor="end" font-size="15.4">40</text>
<line x1="318.1" x2="320.8" y1="731.1" y2="731.1" stroke="#333" stroke-width="1"/>
<text transform="translate(316.9,736.5) scale(1,1.09)" text-anchor="end" font-size="15.4">60</text>
<line x1="318.1" x2="320.8" y1="678.8" y2="678.8" stroke="#333" stroke-width="1"/>
<text transform="translate(316.9,684.2) scale(1,1.09)" text-anchor="end" font-size="15.4">80</text>
<line x1="324.7" x2="324.7" y1="839.7" y2="842.4" stroke="#333" stroke-width="1"/>
<text transform="translate(324.7,856.1) scale(1,1.09)" text-anchor="middle" font-size="15.4">−2</text>
<line x1="369.8" x2="369.8" y1="839.7" y2="842.4" stroke="#333" stroke-width="1"/>
<text transform="translate(369.8,856.1) scale(1,1.09)" text-anchor="middle" font-size="15.4">−1</text>
<line x1="414.9" x2="414.9" y1="839.7" y2="842.4" stroke="#333" stroke-width="1"/>
<text transform="translate(414.9,856.1) scale(1,1.09)" text-anchor="middle" font-size="15.4">0</text>
<line x1="460" x2="460" y1="839.7" y2="842.4" stroke="#333" stroke-width="1"/>
<text transform="translate(460,856.1) scale(1,1.09)" text-anchor="middle" font-size="15.4">1</text>
<line x1="505.1" x2="505.1" y1="839.7" y2="842.4" stroke="#333" stroke-width="1"/>
<text transform="translate(505.1,856.1) scale(1,1.09)" text-anchor="middle" font-size="15.4">2</text>
<text x="416.65" y="879.9" text-anchor="middle" font-size="17.9" font-weight="bold">theoretical</text>
<text transform="translate(287.7,739.3) rotate(-90)" x="0" y="0" text-anchor="middle" font-size="17.9" font-weight="bold">sample</text>
<text transform="translate(279.43,906.6) scale(1,1.18)" font-size="17.6" font-weight="bold" textLength="25.74" lengthAdjust="spacingAndGlyphs">(g)</text>
<text x="309.92" y="906.6" font-size="17.6" textLength="82.57" lengthAdjust="spacingAndGlyphs">Syntactic</text>
<text x="403.61" y="906.6" font-size="17.6" textLength="102.68" lengthAdjust="spacingAndGlyphs">Correctness</text>
<text x="279.55" y="931" font-size="17.6" textLength="39.38" lengthAdjust="spacingAndGlyphs">data</text>
<text x="324.89" y="931" font-size="17.6" textLength="17.61" lengthAdjust="spacingAndGlyphs">of</text>
<text x="348.14" y="931" font-size="17.6" textLength="38.18" lengthAdjust="spacingAndGlyphs">PSP</text>
<text x="392.36" y="931" font-size="17.6" textLength="51.10" lengthAdjust="spacingAndGlyphs">group</text>
<text x="449.98" y="931" font-size="17.6" textLength="15.63" lengthAdjust="spacingAndGlyphs">in</text>
<text x="472.89" y="931" font-size="17.6" textLength="40.37" lengthAdjust="spacingAndGlyphs">ASE</text>
<clipPath id="cliph"><rect x="594" y="645.2" width="186.7" height="194.5"/></clipPath>
<rect x="594" y="645.2" width="186.7" height="194.5" fill="#EBEBEB"/>
<g clip-path="url(#cliph)">
<line x1="594" x2="780.7" y1="808.84" y2="808.84" stroke="#fff" stroke-width="1.0"/>
<line x1="594" x2="780.7" y1="768.2" y2="768.2" stroke="#fff" stroke-width="1.0"/>
<line x1="594" x2="780.7" y1="727.56" y2="727.56" stroke="#fff" stroke-width="1.0"/>
<line x1="594" x2="780.7" y1="686.92" y2="686.92" stroke="#fff" stroke-width="1.0"/>
<line x1="594" x2="780.7" y1="646.28" y2="646.28" stroke="#fff" stroke-width="1.0"/>
<line y1="645.2" y2="839.7" x1="619.28" x2="619.28" stroke="#fff" stroke-width="1.0"/>
<line y1="645.2" y2="839.7" x1="664.69" x2="664.69" stroke="#fff" stroke-width="1.0"/>
<line y1="645.2" y2="839.7" x1="710.11" x2="710.11" stroke="#fff" stroke-width="1.0"/>
<line y1="645.2" y2="839.7" x1="755.51" x2="755.51" stroke="#fff" stroke-width="1.0"/>
<line x1="594" x2="780.7" y1="829.16" y2="829.16" stroke="#fff" stroke-width="1.2"/>
<line x1="594" x2="780.7" y1="788.52" y2="788.52" stroke="#fff" stroke-width="1.2"/>
<line x1="594" x2="780.7" y1="747.88" y2="747.88" stroke="#fff" stroke-width="1.2"/>
<line x1="594" x2="780.7" y1="707.24" y2="707.24" stroke="#fff" stroke-width="1.2"/>
<line x1="594" x2="780.7" y1="666.6" y2="666.6" stroke="#fff" stroke-width="1.2"/>
<line y1="645.2" y2="839.7" x1="596.58" x2="596.58" stroke="#fff" stroke-width="1.2"/>
<line y1="645.2" y2="839.7" x1="641.99" x2="641.99" stroke="#fff" stroke-width="1.2"/>
<line y1="645.2" y2="839.7" x1="687.4" x2="687.4" stroke="#fff" stroke-width="1.2"/>
<line y1="645.2" y2="839.7" x1="732.81" x2="732.81" stroke="#fff" stroke-width="1.2"/>
<line y1="645.2" y2="839.7" x1="778.22" x2="778.22" stroke="#fff" stroke-width="1.2"/>
<circle cx="602.1" cy="830.9" r="1.95"/>
<circle cx="626.3" cy="812.1" r="1.95"/>
<circle cx="640.0" cy="802.1" r="1.95"/>
<circle cx="650.2" cy="787.4" r="1.95"/>
<circle cx="658.9" cy="752.5" r="1.95"/>
<circle cx="666.8" cy="741.0" r="1.95"/>
<circle cx="673.7" cy="726.0" r="1.95"/>
<circle cx="680.5" cy="719.3" r="1.95"/>
<circle cx="687.2" cy="699.2" r="1.95"/>
<circle cx="693.8" cy="691.3" r="1.95"/>
<circle cx="700.9" cy="690.8" r="1.95"/>
<circle cx="708.1" cy="687.0" r="1.95"/>
<circle cx="715.7" cy="687.0" r="1.95"/>
<circle cx="724.1" cy="687.0" r="1.95"/>
<circle cx="734.8" cy="667.1" r="1.95"/>
<circle cx="748.1" cy="664.3" r="1.95"/>
<circle cx="772.3" cy="654.1" r="1.95"/>
<line x1="589" y1="825.78" x2="785.7" y2="613.72" stroke="#000" stroke-width="1.05"/>
</g>
<line x1="591.3" x2="594" y1="829.16" y2="829.16" stroke="#333" stroke-width="1"/>
<text transform="translate(590.1,834.56) scale(1,1.09)" text-anchor="end" font-size="15.4">30</text>
<line x1="591.3" x2="594" y1="788.52" y2="788.52" stroke="#333" stroke-width="1"/>
<text transform="translate(590.1,793.92) scale(1,1.09)" text-anchor="end" font-size="15.4">40</text>
<line x1="591.3" x2="594" y1="747.88" y2="747.88" stroke="#333" stroke-width="1"/>
<text transform="translate(590.1,753.28) scale(1,1.09)" text-anchor="end" font-size="15.4">50</text>
<line x1="591.3" x2="594" y1="707.24" y2="707.24" stroke="#333" stroke-width="1"/>
<text transform="translate(590.1,712.64) scale(1,1.09)" text-anchor="end" font-size="15.4">60</text>
<line x1="591.3" x2="594" y1="666.6" y2="666.6" stroke="#333" stroke-width="1"/>
<text transform="translate(590.1,672) scale(1,1.09)" text-anchor="end" font-size="15.4">70</text>
<line x1="596.58" x2="596.58" y1="839.7" y2="842.4" stroke="#333" stroke-width="1"/>
<text transform="translate(596.58,856.1) scale(1,1.09)" text-anchor="middle" font-size="15.4">−2</text>
<line x1="641.99" x2="641.99" y1="839.7" y2="842.4" stroke="#333" stroke-width="1"/>
<text transform="translate(641.99,856.1) scale(1,1.09)" text-anchor="middle" font-size="15.4">−1</text>
<line x1="687.4" x2="687.4" y1="839.7" y2="842.4" stroke="#333" stroke-width="1"/>
<text transform="translate(687.4,856.1) scale(1,1.09)" text-anchor="middle" font-size="15.4">0</text>
<line x1="732.81" x2="732.81" y1="839.7" y2="842.4" stroke="#333" stroke-width="1"/>
<text transform="translate(732.81,856.1) scale(1,1.09)" text-anchor="middle" font-size="15.4">1</text>
<line x1="778.22" x2="778.22" y1="839.7" y2="842.4" stroke="#333" stroke-width="1"/>
<text transform="translate(778.22,856.1) scale(1,1.09)" text-anchor="middle" font-size="15.4">2</text>
<text x="689.55" y="879.9" text-anchor="middle" font-size="17.9" font-weight="bold">theoretical</text>
<text transform="translate(560.5,739.3) rotate(-90)" x="0" y="0" text-anchor="middle" font-size="17.9" font-weight="bold">sample</text>
<text transform="translate(552.31,906.6) scale(1,1.18)" font-size="17.6" font-weight="bold" textLength="27.48" lengthAdjust="spacingAndGlyphs">(h)</text>
<text x="584.18" y="906.6" font-size="17.6" textLength="82.57" lengthAdjust="spacingAndGlyphs">Response</text>
<text x="674.29" y="906.6" font-size="17.6" textLength="38.56" lengthAdjust="spacingAndGlyphs">time</text>
<text x="719.54" y="906.6" font-size="17.6" textLength="39.79" lengthAdjust="spacingAndGlyphs">data</text>
<text x="765.46" y="906.6" font-size="17.6" textLength="18.34" lengthAdjust="spacingAndGlyphs">of</text>
<text x="553.14" y="931" font-size="17.6" textLength="38.18" lengthAdjust="spacingAndGlyphs">PSP</text>
<text x="597.37" y="931" font-size="17.6" textLength="50.37" lengthAdjust="spacingAndGlyphs">group</text>
<text x="655.87" y="931" font-size="17.6" textLength="16.05" lengthAdjust="spacingAndGlyphs">in</text>
<text x="679.60" y="931" font-size="17.6" textLength="39.34" lengthAdjust="spacingAndGlyphs">ASE</text>
</svg>
</body></html>
